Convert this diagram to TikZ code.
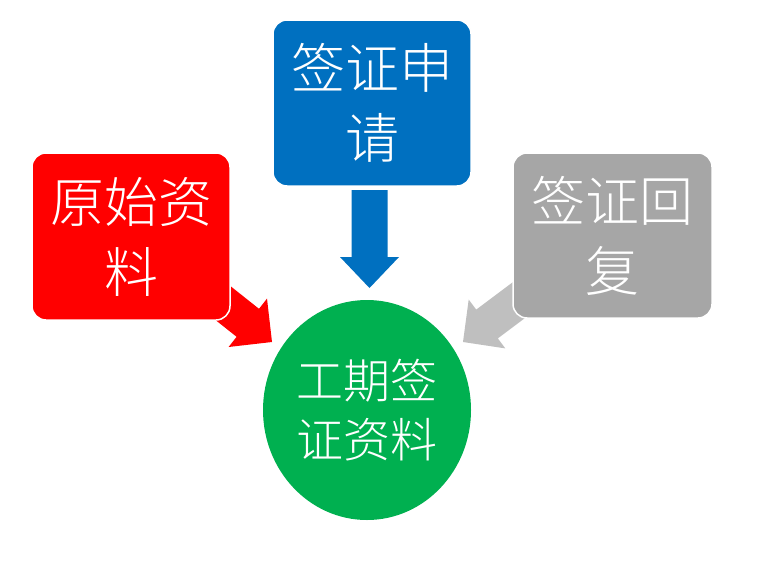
\documentclass[tikz,border=0pt]{standalone}
\usepackage{fontspec}
\newfontfamily\cjk{Noto Sans CJK SC Light}
\usetikzlibrary{shapes.geometric}
\definecolor{cred}{HTML}{FF0000}
\definecolor{cblue}{HTML}{0070C0}
\definecolor{cgray}{HTML}{A6A6A6}
\definecolor{cgrayarrow}{HTML}{BFBFBF}
\definecolor{cgreen}{HTML}{00B050}
\begin{document}
\begin{tikzpicture}[x=1pt,y=-1pt,
  box/.style={draw=white, line width=1.5pt, rounded corners=14pt,
    inner sep=0pt, align=center, text=white,
    font=\cjk\fontsize{54pt}{70pt}\selectfont},
  hub/.style={ellipse, draw=none, inner sep=0pt, align=center, text=white,
    minimum width=208pt, minimum height=220pt,
    font=\cjk\fontsize{47pt}{59pt}\selectfont}]
\useasboundingbox (0,0) rectangle (760,570);
% block arrows (drawn first, under the boxes)
\fill[cred] (182.0,293.4) -- (236.6,336.8) -- (228.6,347.0) -- (272,342)
  -- (267.0,298.6) -- (259.0,308.8) -- (204.4,265.4) -- cycle;
\fill[cgrayarrow] (553.8,296.4) -- (497.8,338.4) -- (505.3,348.4) -- (463,342)
  -- (468.7,299.6) -- (476.2,309.6) -- (532.2,267.6) -- cycle;
\fill[cblue] (351.5,190) -- (387.5,190) -- (387.5,257) -- (399,257)
  -- (369.5,288) -- (340,257) -- (351.5,257) -- cycle;
% boxes
\node[box, fill=cred, minimum width=198pt, minimum height=167pt] (src) at (131,236.5) {原始资\\料};
\node[box, fill=cblue, minimum width=198pt, minimum height=166pt] (app) at (372,103) {签证申\\请};
\node[box, fill=cgray, minimum width=199pt, minimum height=165pt] (rep) at (612.5,235.5) {签证回\\复};
\node[hub, fill=cgreen] (hub) at (367,410) {工期签\\证资料};
\end{tikzpicture}
\end{document}
